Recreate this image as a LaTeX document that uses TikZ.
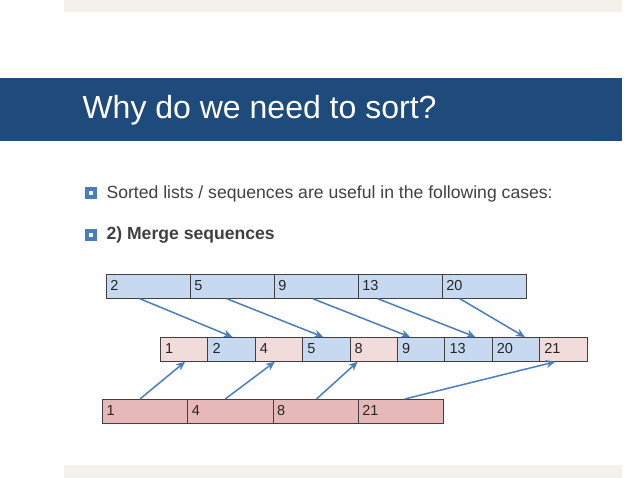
\documentclass[tikz,border=0pt]{standalone}
\usepackage{fontspec}
\setmainfont{Liberation Sans}
\usetikzlibrary{calc,arrows.meta}
\definecolor{band}{HTML}{1F4A7C}
\definecolor{pale}{HTML}{F2F1EC}
\definecolor{bl}{HTML}{C6D9F1}
\definecolor{pk}{HTML}{F2DCDB}
\definecolor{rd}{HTML}{E6B9B8}
\definecolor{arr}{HTML}{4A7EBB}
\definecolor{txt}{HTML}{404040}
\tikzset{
 cell/.style={draw=black!75,line width=0.8pt,anchor=north west,minimum height=24pt,inner sep=0pt,text height=10pt,text depth=2pt,align=left,font=\fontsize{14.5}{14.5}\selectfont,text=black!85},
 mer/.style={draw=arr,line width=1.5pt,-{Stealth[length=9pt,width=8pt]}},
 bul/.style={fill=arr,draw=arr,minimum size=11pt,inner sep=0pt},
 bulin/.style={fill=white,minimum size=4.5pt,inner sep=0pt}
}
\begin{document}
\begin{tikzpicture}[x=1pt,y=-1pt]
\useasboundingbox (0,0) rectangle (638,478);
\fill[pale] (64,0) rectangle (622,12);
\fill[pale] (64,465) rectangle (622,478);
\fill[band] (0,78) rectangle (622,141);
\node[anchor=west,text=white,font=\fontsize{32}{32}\selectfont] (title) at (79,110) {Why do we need to sort?};
\node[bul] (b1) at (91,193) {}; \node[bulin] at (b1) {};
\node[bul] (b2) at (91,235) {}; \node[bulin] at (b2) {};
\node[anchor=west,text=txt,font=\fontsize{17.6}{18}\selectfont] (l1) at (103,194) {Sorted lists / sequences are useful in the following cases:};
\node[anchor=west,text=txt,font=\fontsize{17.6}{18}\selectfont\bfseries] (l2) at (103,235) {2) Merge sequences};
% top row
\foreach \v [count=\i from 0] in {2,5,9,13,20}{
 \node[cell,fill=bl,minimum width=84pt,text width=76pt] (t\i) at (106+84*\i,274) {\v};}
% middle row
\foreach \v/\c [count=\i from 0] in {1/pk,2/bl,4/pk,5/bl,8/pk,9/bl,13/bl,20/bl,21/pk}{
 \node[cell,fill=\c,minimum width=47.4pt,text width=38pt] (m\i) at (160+47.4*\i,337) {\v};}
% bottom row
\foreach \v [count=\i from 0] in {1,4,8,21}{
 \node[cell,fill=rd,minimum width=85.25pt,text width=77pt] (b\i) at (102+85.25*\i,399) {\v};}
% arrows top->middle
\draw[mer] ($(t0.south west)+(34,0)$) -- ($(m1.north west)+(25,0)$);
\draw[mer] ($(t1.south west)+(37,0)$) -- ($(m3.north west)+(21,0)$);
\draw[mer] ($(t2.south west)+(39,0)$) -- ($(m5.north west)+(13,0)$);
\draw[mer] ($(t3.south west)+(20,0)$) -- ($(m6.north west)+(31,0)$);
\draw[mer] ($(t4.south west)+(18,0)$) -- ($(m7.north west)+(33,0)$);
% arrows bottom->middle
\draw[mer] ($(b0.north west)+(38,0)$) -- ($(m0.south west)+(25,0)$);
\draw[mer] ($(b1.north west)+(38,0)$) -- ($(m2.south west)+(20,0)$);
\draw[mer] ($(b2.north west)+(44,0)$) -- ($(m4.south west)+(8,0)$);
\draw[mer] ($(b3.north west)+(47,0)$) -- ($(m8.south west)+(16,0)$);
\end{tikzpicture}
\end{document}
